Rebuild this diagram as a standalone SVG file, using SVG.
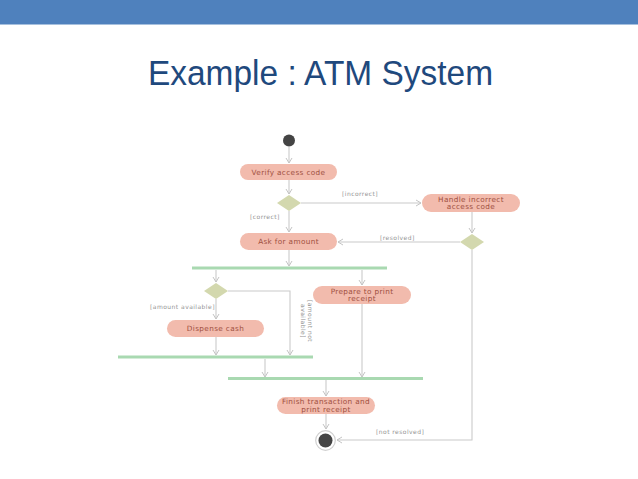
<svg xmlns="http://www.w3.org/2000/svg" width="638" height="479" viewBox="0 0 638 479">
<style>
.act{fill:#F2BBAD;stroke:none}
.at{font-family:"DejaVu Sans",sans-serif;font-size:7.3px;fill:#A0503F;text-anchor:middle;letter-spacing:0.35px}
.dec{fill:#D3D8AE;stroke:none}
.bar{stroke:#A9D9B1;stroke-width:3}
.lbl{font-family:"DejaVu Sans",sans-serif;font-size:6px;fill:#949494;letter-spacing:0.45px}
.cn{fill:none;stroke:#CACACA;stroke-width:1.1}
</style>
<defs>
<marker id="arr" markerWidth="8" markerHeight="8" refX="6" refY="4" orient="auto" markerUnits="userSpaceOnUse">
<path d="M1,1 L6,4 L1,7" fill="none" stroke="#C4C4C4" stroke-width="1"/>
</marker>
</defs>
<rect width="638" height="479" fill="#FFFFFF"/>
<rect id="banner" x="0" y="0" width="638" height="24.5" fill="#4F81BD"/>
<text id="title" x="148" y="85" font-family="Liberation Sans, Arial, sans-serif" font-size="35.5" fill="#1F497D" textLength="345" lengthAdjust="spacingAndGlyphs">Example : ATM System</text>

<g id="connectors">
<path class="cn" d="M289,147 V163" marker-end="url(#arr)"/>
<path class="cn" d="M289,180 V194" marker-end="url(#arr)"/>
<path class="cn" d="M301,203 H421" marker-end="url(#arr)"/>
<path class="cn" d="M289,211 V232" marker-end="url(#arr)"/>
<path class="cn" d="M472,212 V233" marker-end="url(#arr)"/>
<path class="cn" d="M460,242 H338" marker-end="url(#arr)"/>
<path class="cn" d="M289,250 V266" marker-end="url(#arr)"/>
<path class="cn" d="M216,270 V282" marker-end="url(#arr)"/>
<path class="cn" d="M362,270 V285" marker-end="url(#arr)"/>
<path class="cn" d="M228,291 H290 V355" marker-end="url(#arr)"/>
<path class="cn" d="M216,299 V319" marker-end="url(#arr)"/>
<path class="cn" d="M216,337 V355" marker-end="url(#arr)"/>
<path class="cn" d="M362,304 V377" marker-end="url(#arr)"/>
<path class="cn" d="M265,359 V377" marker-end="url(#arr)"/>
<path class="cn" d="M326,380 V396" marker-end="url(#arr)"/>
<path class="cn" d="M326,414 V429" marker-end="url(#arr)"/>
<path class="cn" d="M472,250 V440 H337" marker-end="url(#arr)"/>
<text class="lbl" x="342" y="196">[incorrect]</text>
<text class="lbl" x="250" y="219">[correct]</text>
<text class="lbl" x="380" y="240">[resolved]</text>
<text class="lbl" x="150" y="309">[amount available]</text>
<text class="lbl" text-anchor="middle" transform="translate(308,321) rotate(90)">[amount not</text>
<text class="lbl" text-anchor="middle" transform="translate(301,321) rotate(90)">available]</text>
<text class="lbl" x="376" y="434">[not resolved]</text>
</g>

<g id="start"><circle cx="289" cy="140.5" r="6" fill="#444444"/></g>
<g id="verify"><rect class="act" x="240" y="164" width="97" height="16" rx="8"/><text class="at" x="288.5" y="174.8">Verify access code</text></g>
<g id="decision1"><polygon class="dec" points="289,195 301,203 289,211 277,203"/></g>
<g id="handle"><rect class="act" x="422" y="194" width="98" height="18" rx="9"/><text class="at" x="471" y="201.8">Handle incorrect</text><text class="at" x="471" y="209.3">access code</text></g>
<g id="ask"><rect class="act" x="240" y="233" width="97" height="17" rx="8.5"/><text class="at" x="288.5" y="244">Ask for amount</text></g>
<g id="decision2"><polygon class="dec" points="472,234 484,242 472,250 460,242"/></g>
<g id="fork1"><line class="bar" x1="192" y1="268" x2="387" y2="268"/></g>
<g id="decision3"><polygon class="dec" points="216,283 228,291 216,299 204,291"/></g>
<g id="prepare"><rect class="act" x="313" y="286" width="98" height="18" rx="9"/><text class="at" x="362" y="293.8">Prepare to print</text><text class="at" x="362" y="301.3">receipt</text></g>
<g id="dispense"><rect class="act" x="167" y="320" width="97" height="17" rx="8.5"/><text class="at" x="215.5" y="331">Dispense cash</text></g>
<g id="join1"><line class="bar" x1="118" y1="357" x2="313" y2="357"/></g>
<g id="join2"><line class="bar" x1="228" y1="378.5" x2="423" y2="378.5"/></g>
<g id="finish"><rect class="act" x="277" y="397" width="98" height="17" rx="8.5"/><text class="at" x="326" y="404.3">Finish transaction and</text><text class="at" x="326" y="411.8">print receipt</text></g>
<g id="end"><circle cx="325.5" cy="440.5" r="9.8" fill="#FFFFFF" stroke="#D0D0D0" stroke-width="1.2"/><circle cx="325.5" cy="440.5" r="7" fill="#444444"/></g>
</svg>
